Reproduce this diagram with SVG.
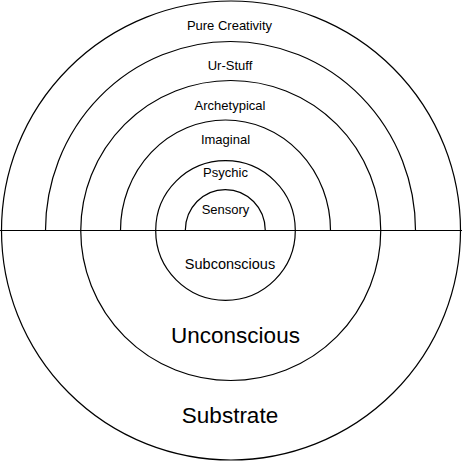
<svg xmlns="http://www.w3.org/2000/svg" width="462" height="461" viewBox="0 0 462 461">
<style>
.s{fill:none;stroke:#000;stroke-width:1.2}
text{font-family:"Liberation Sans",Arial,sans-serif;fill:#000;text-anchor:middle}
.t13{font-size:13px}
.t14{font-size:14.5px}
.t22{font-size:22.5px}
</style>
<rect width="462" height="461" fill="#fff"/>
<g id="substrate">
<circle class="s" cx="231" cy="230.5" r="229.5"/>
<text class="t22" x="230" y="422.5">Substrate</text>
<text class="t13" x="229.5" y="29.5">Pure Creativity</text>
</g>
<g id="divider">
<line class="s" x1="0" y1="230.5" x2="462" y2="230.5"/>
</g>
<g id="ur-stuff">
<path class="s" d="M45.5 230.5 A185 189 0 0 1 415.5 230.5"/>
<text class="t13" x="230" y="70">Ur-Stuff</text>
</g>
<g id="archetypical">
<circle class="s" cx="230.75" cy="230.5" r="150"/>
<text class="t13" x="230" y="110">Archetypical</text>
<text class="t22" x="235.5" y="342.5">Unconscious</text>
</g>
<g id="imaginal">
<path class="s" d="M120.5 230.5 A105 110.5 0 0 1 330.5 230.5"/>
<text class="t13" x="225.5" y="143.5">Imaginal</text>
</g>
<g id="psychic">
<circle class="s" cx="225.5" cy="230.5" r="69.8"/>
<text class="t13" x="225.5" y="176.5">Psychic</text>
<text class="t14" x="230" y="268.5">Subconscious</text>
</g>
<g id="sensory">
<path class="s" d="M185.3 230.5 A40 41 0 0 1 265.3 230.5"/>
<text class="t13" x="225.5" y="213.5">Sensory</text>
</g>
</svg>
